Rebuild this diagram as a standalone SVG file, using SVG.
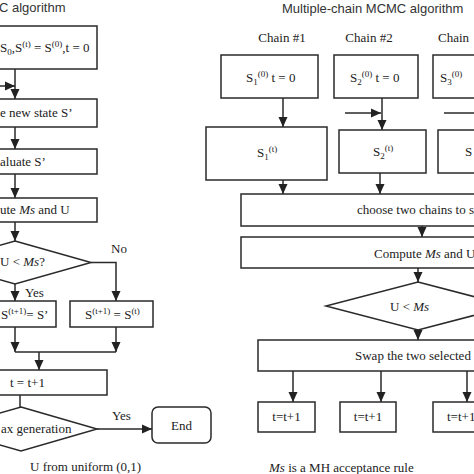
<svg xmlns="http://www.w3.org/2000/svg" width="474" height="474" viewBox="0 0 474 474">
<style>
.b{fill:#fff;stroke:#2a2a2a;stroke-width:1.5}
.c{fill:none;stroke:#2a2a2a;stroke-width:1.5}
.t{font-family:"Liberation Serif","Times New Roman",serif;font-size:13px;fill:#222}
.s{font-size:9px}
.h{font-family:"Liberation Sans",Arial,sans-serif;font-size:13px;fill:#333}
</style>
<defs>
<marker id="ah" viewBox="0 0 10 10" refX="10" refY="5" markerWidth="10" markerHeight="10" markerUnits="userSpaceOnUse" orient="auto">
<path d="M0,0.5 L10,5 L0,9.5 z" fill="#222"/>
</marker>
</defs>
<rect width="474" height="474" fill="#fff"/>
<text class="h" x="-1" y="12">C algorithm</text>
<text class="h" x="282" y="13">Multiple-chain MCMC algorithm</text>

<g id="connectors">
<path class="c" d="M15,69 V99" marker-end="url(#ah)"/>
<path class="c" d="M-2,86 H15" marker-end="url(#ah)"/>
<path class="c" d="M15,127 V149" marker-end="url(#ah)"/>
<path class="c" d="M15,174 V198" marker-end="url(#ah)"/>
<path class="c" d="M15,222 V241" marker-end="url(#ah)"/>
<path class="c" d="M15,284 V301" marker-end="url(#ah)"/>
<path class="c" d="M91,262.5 H116 V301" marker-end="url(#ah)"/>
<path class="c" d="M15,327 V352" marker-end="url(#ah)"/>
<path class="c" d="M116,327 V352" marker-end="url(#ah)"/>
<path class="c" d="M15,352 H116"/>
<path class="c" d="M39,352 V370" marker-end="url(#ah)"/>
<path class="c" d="M20,395 V407"/>
<path class="c" d="M97,429 H152" marker-end="url(#ah)"/>
<path class="c" d="M283,98 V127" marker-end="url(#ah)"/>
<path class="c" d="M382,98 V130" marker-end="url(#ah)"/>
<path class="c" d="M345,113 H381" marker-end="url(#ah)"/>
<path class="c" d="M444,113 H476"/>
<path class="c" d="M283,180 V194" marker-end="url(#ah)"/>
<path class="c" d="M380,173 V194" marker-end="url(#ah)"/>
<path class="c" d="M422,226 V237" marker-end="url(#ah)"/>
<path class="c" d="M418,268 V282" marker-end="url(#ah)"/>
<path class="c" d="M418,330 V340" marker-end="url(#ah)"/>
<path class="c" d="M293,371 V402" marker-end="url(#ah)"/>
<path class="c" d="M381,371 V402" marker-end="url(#ah)"/>
<path class="c" d="M467,371 V402" marker-end="url(#ah)"/>
</g>

<g id="init">
<rect class="b" x="-10" y="26" width="107" height="43"/>
<text class="t" x="0" y="52">S<tspan class="s" dy="3">0</tspan><tspan dy="-3">,S</tspan><tspan class="s" dy="-5">(t)</tspan><tspan dy="5"> = S</tspan><tspan class="s" dy="-5">(0)</tspan><tspan dy="5">,t = 0</tspan></text>
</g>
<g id="generate">
<rect class="b" x="-10" y="99" width="107" height="28"/>
<text class="t" x="0" y="117">e new state S’</text>
</g>
<g id="evaluate">
<rect class="b" x="-10" y="149" width="107" height="25"/>
<text class="t" x="0" y="166">aluate S’</text>
</g>
<g id="compute">
<rect class="b" x="-10" y="198" width="107" height="24"/>
<text class="t" x="0" y="214">ute <tspan font-style="italic">Ms</tspan> and U</text>
</g>
<g id="decision">
<polygon class="b" points="15,241 91,262.5 15,284 -61,262.5"/>
<text class="t" x="0" y="266">U &lt; <tspan font-style="italic">Ms</tspan>?</text>
<text class="t" x="111" y="253">No</text>
<text class="t" x="25" y="297">Yes</text>
</g>
<g id="accept">
<rect class="b" x="-10" y="301" width="66" height="26"/>
<text class="t" x="1" y="319">S<tspan class="s" dy="-5">(t+1)</tspan><tspan dy="5">= S’</tspan></text>
</g>
<g id="reject">
<rect class="b" x="70" y="301" width="83" height="26"/>
<text class="t" x="85" y="319">S<tspan class="s" dy="-5">(t+1)</tspan><tspan dy="5"> = S</tspan><tspan class="s" dy="-5">(t)</tspan></text>
</g>
<g id="increment">
<rect class="b" x="-10" y="370" width="117" height="25"/>
<text class="t" x="10" y="387">t = t+1</text>
</g>
<g id="maxgen">
<polygon class="b" points="21,407 97,429 21,451 -55,429"/>
<text class="t" x="1" y="433">ax generation</text>
<text class="t" x="112" y="420">Yes</text>
</g>
<g id="end">
<rect class="b" x="152" y="407" width="59" height="36" rx="6"/>
<text class="t" x="181.5" y="430" text-anchor="middle">End</text>
</g>
<text class="t" x="30" y="471">U from uniform (0,1)</text>

<text class="t" x="282" y="42" text-anchor="middle">Chain #1</text>
<text class="t" x="369" y="42" text-anchor="middle">Chain #2</text>
<text class="t" x="438" y="42">Chain</text>

<g id="chain1-init">
<rect class="b" x="221" y="55" width="97" height="43"/>
<text class="t" x="246" y="82">S<tspan class="s" dy="3">1</tspan><tspan class="s" dy="-8">(0)</tspan><tspan dy="5"> t = 0</tspan></text>
</g>
<g id="chain2-init">
<rect class="b" x="334" y="55" width="84" height="43"/>
<text class="t" x="350" y="82">S<tspan class="s" dy="3">2</tspan><tspan class="s" dy="-8">(0)</tspan><tspan dy="5"> t = 0</tspan></text>
</g>
<g id="chain3-init">
<rect class="b" x="433" y="55" width="60" height="43"/>
<text class="t" x="440" y="82">S<tspan class="s" dy="3">3</tspan><tspan class="s" dy="-8">(0)</tspan></text>
</g>
<g id="chain1-state">
<rect class="b" x="206" y="127" width="121" height="53"/>
<text class="t" x="257" y="157">S<tspan class="s" dy="3">1</tspan><tspan class="s" dy="-8">(t)</tspan></text>
</g>
<g id="chain2-state">
<rect class="b" x="339" y="130" width="87" height="43"/>
<text class="t" x="373" y="156">S<tspan class="s" dy="3">2</tspan><tspan class="s" dy="-8">(t)</tspan></text>
</g>
<g id="chain3-state">
<rect class="b" x="438" y="130" width="60" height="43"/>
<text class="t" x="465" y="156">S</text>
</g>
<g id="choose">
<rect class="b" x="241" y="194" width="250" height="32"/>
<text class="t" x="357" y="214">choose two chains to s</text>
</g>
<g id="compute2">
<rect class="b" x="241" y="237" width="250" height="31"/>
<text class="t" x="374" y="258">Compute <tspan font-style="italic">Ms</tspan> and U</text>
</g>
<g id="decision2">
<polygon class="b" points="418,282 510,306 418,330 326,306"/>
<text class="t" x="390" y="311">U &lt; <tspan font-style="italic">Ms</tspan></text>
</g>
<g id="swap">
<rect class="b" x="258" y="340" width="240" height="31"/>
<text class="t" x="355" y="360">Swap the two selected</text>
</g>
<g id="inc1">
<rect class="b" x="258" y="402" width="57" height="30"/>
<text class="t" x="286.5" y="421" text-anchor="middle">t=t+1</text>
</g>
<g id="inc2">
<rect class="b" x="340" y="402" width="56" height="30"/>
<text class="t" x="368" y="421" text-anchor="middle">t=t+1</text>
</g>
<g id="inc3">
<rect class="b" x="433" y="402" width="60" height="30"/>
<text class="t" x="447" y="421">t=t+1</text>
</g>
<text class="t" x="269" y="472"><tspan font-style="italic">Ms</tspan> is a MH acceptance rule</text>
</svg>
